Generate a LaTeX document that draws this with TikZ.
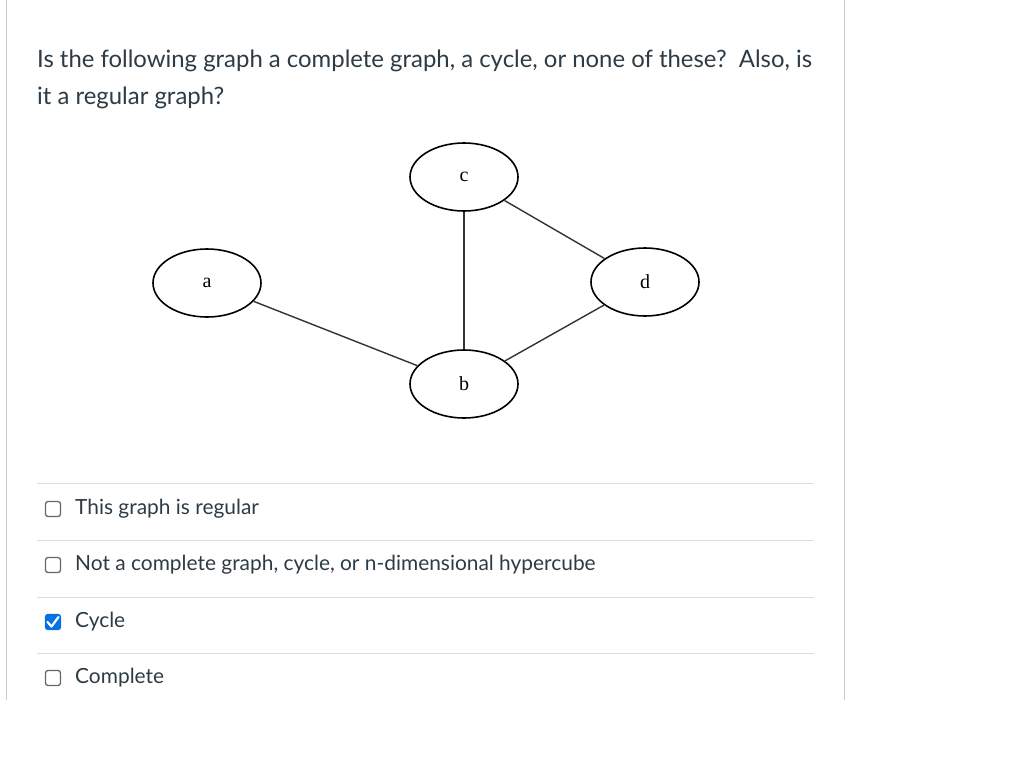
\documentclass[tikz,border=0pt]{standalone}
\usetikzlibrary{shapes.geometric}
\usepackage{fontspec}
\setmainfont{Lato}
\newfontfamily\serifgr{Liberation Serif}
\definecolor{txt}{HTML}{2D3B45}
\definecolor{sep}{HTML}{DDDDDD}
\definecolor{bord}{HTML}{C7CDD1}
\definecolor{chk}{HTML}{0770E3}
\begin{document}
\begin{tikzpicture}[x=1pt,y=-1pt,
  vert/.style={draw,line width=1.6pt,ellipse,minimum width=108pt,minimum height=68pt,font=\serifgr\fontsize{20}{24}\selectfont},
  edge/.style={line width=1.4pt,black!80},
  opt/.style={anchor=west,text=txt,font=\fontsize{20.9}{24}\selectfont},
  box/.style={draw=gray!80!black,line width=1.3pt,rounded corners=2.5pt,minimum size=15pt,inner sep=0pt},
  sepl/.style={sep,line width=0.8pt}]
\useasboundingbox (0,0) rectangle (1024,776);
\draw[bord,line width=1pt] (6,0) -- (6,700);
\draw[bord,line width=1pt] (844,0) -- (844,700);
\node[anchor=west,text=txt,font=\fontsize{23.9}{28}\selectfont,inner sep=0pt] (q1) at (37,61) {Is the following graph a complete graph, a cycle, or none of these?\ \ Also, is};
\node[anchor=west,text=txt,font=\fontsize{23.9}{28}\selectfont,inner sep=0pt] (q2) at (37,98) {it a regular graph?};
\node[vert] (c) at (464,177) {c};
\node[vert] (a) at (207,283) {a};
\node[vert] (d) at (645,282) {d};
\node[vert] (b) at (464,384) {b};
\draw[edge] (a) -- (b);
\draw[edge] (c) -- (b);
\draw[edge] (c) -- (d);
\draw[edge] (d) -- (b);
\draw[sepl] (37,483) -- (814,483);
\draw[sepl] (37,540) -- (814,540);
\draw[sepl] (37,597) -- (814,597);
\draw[sepl] (37,653) -- (814,653);
\node[box] (k1) at (53,509) {};
\node[opt,inner sep=0pt] (o1) at (75,509) {This graph is regular};
\node[box] (k2) at (53,565) {};
\node[opt,inner sep=0pt] (o2) at (75,565) {Not a complete graph, cycle, or n-dimensional hypercube};
\node[box,fill=chk,draw=chk] (k3) at (53,622) {};
\draw[white,line width=2.2pt,line cap=round,line join=round] (47.5,622) -- (51.5,626.5) -- (58.5,617);
\node[opt,inner sep=0pt] (o3) at (75,622) {Cycle};
\node[box] (k4) at (53,678) {};
\node[opt,inner sep=0pt] (o4) at (75,678) {Complete};
\end{tikzpicture}
\end{document}
